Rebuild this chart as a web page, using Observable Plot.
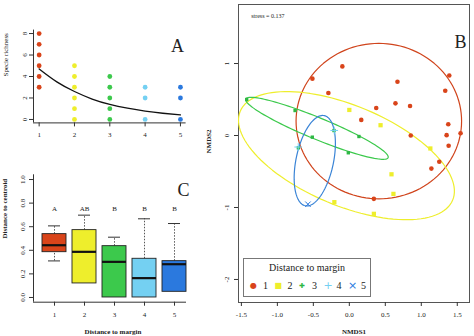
<!DOCTYPE html>
<html>
<head>
<meta charset="utf-8">
<script src="https://cdn.jsdelivr.net/npm/d3@7"></script>
<script src="https://cdn.jsdelivr.net/npm/@observablehq/plot@0.6"></script>
<style>
  body { margin: 0; background: #fff; }
  #wrap { position: relative; width: 474px; height: 336px; overflow: hidden; font-family: "Liberation Serif", "Times New Roman", serif; }
  .panel { position: absolute; }
  .panel svg { display: block; overflow: visible; }
  #legend { position: absolute; left: 243px; top: 258px; width: 126px; height: 37px; border: 1px solid #777; background: #fff; font-size: 10px; color: #222; }
  #legend .title { text-align: center; margin-top: 3px; line-height: 12px; }
  #legend .items { position: absolute; left: 0; top: 20px; width: 126px; height: 14px; }
  #legend .sym { position: absolute; top: 0; font-size: 10px; line-height: 14px; }
  #legend .lab { position: absolute; top: 0; line-height: 14px; }
</style>
</head>
<body>
<div id="wrap">
  <div class="panel" id="pa" style="left:0;top:0"></div>
  <div class="panel" id="pc" style="left:0;top:160px"></div>
  <div class="panel" id="pb" style="left:200px;top:0"></div>
  <div id="legend">
    <div class="title">Distance to margin</div>
    <div class="items" id="legendItems"></div>
  </div>
</div>
<script>
// ---------- shared ----------
const groups = [1, 2, 3, 4, 5];
const groupColors = ["#d9441a", "#eeee2c", "#3cc94c", "#74d0f2", "#2b79de"];
const distanceTicks = [1, 2, 3, 4, 5];

// ---------- Panel A: species richness vs distance ----------
const richnessDistance = [1,1,1,1,1,1, 2,2,2,2,2,2, 3,3,3,3,3, 4,4,4, 5,5,5];
const richnessValues   = [3,4,5,6,7,8, 0,1,2,3,4,5, 0,1,2,3,4, 0,2,3, 0,2,3];
const fitDistance = [1, 1.5, 2, 2.5, 3, 3.5, 4, 4.5, 5];
const fitRichness = [4.7, 3.5, 2.6, 1.9, 1.4, 1.05, 0.78, 0.58, 0.42];
const richnessTicks = [0, 2, 4, 6, 8];

// ---------- Panel C: distance to centroid boxplots ----------
const whiskerLow  = [0.31, 0.119, 0.0, 0.0, 0.048];
const boxQ1       = [0.384, 0.119, 0.0, 0.0, 0.048];
const boxMedian   = [0.443, 0.387, 0.302, 0.164, 0.282];
const boxQ3       = [0.537, 0.571, 0.435, 0.328, 0.308];
const whiskerHigh = [0.607, 0.698, 0.511, 0.667, 0.627];
const groupLetters = ["A", "AB", "B", "B", "B"];
const letterLevel = 0.75;
const centroidTicks = [0, 0.2, 0.4, 0.6, 0.8, 1.0];

// ---------- Panel B: NMDS ----------
const nmdsGroup = [1,1,1,1,1,1,1,1,1,1,1,1,1,1,1,1,1,1, 2,2,2,2,2,2,2, 3,3,3,3,3,3,3, 4,4, 5];
const nmds1 = [-0.513,-0.097,-0.291,0.669,0.374,0.641,0.844,0.166,0.854,1.389,1.333,1.375,1.352,1.546,1.38,1.25,1.14,0.341,
               0.0,0.434,1.126,0.586,0.613,-0.208,0.341,
               -1.426,-0.754,-0.213,-0.514,0.134,-0.014,-0.708,
               -0.21,-0.71,
               -0.575];
const nmds2 = [0.79,0.96,0.59,0.746,0.382,0.447,0.41,0.217,0.0,0.834,0.622,0.157,0.005,0.032,-0.143,-0.364,-0.46,-0.88,
               0.355,0.143,-0.18,-0.539,-0.811,-0.926,-1.088,
               0.5,0.347,0.069,-0.023,-0.014,-0.24,-0.171,
               0.07,-0.16,
               -0.955];
const nmdsTicksX = [-1.5, -1.0, -0.5, 0.0, 0.5, 1.0, 1.5];
const nmdsTicksY = [-2, -1, 0, 1];
// ellipses (centre, semi-axes, angle in degrees)
const ellipseGroup = [1, 2, 3, 4];
const ellipseColor = ["#d0441c", "#eeee2c", "#3cc94c", "#3a84d6"];
const ellipseCx = [0.41, -0.04, -0.45, -0.48];
const ellipseCy = [0.2, -0.28, 0.1, -0.35];
const ellipseA  = [1.15, 1.6, 1.07, 0.64];
const ellipseB  = [1.08, 0.695, 0.15, 0.26];
const ellipseAngle = [0, -22.7, -22.4, 78.1];
const stressText = "stress = 0.137";

const FONT = '"Liberation Serif", "Times New Roman", serif';
const AX = "#333";
const colorScale = {domain: groups, range: groupColors};

// ---------- build A ----------
const richness = richnessDistance.map((d, i) => ({dist: d, rich: richnessValues[i]}));
const fit = fitDistance.map((d, i) => ({dist: d, rich: fitRichness[i]}));
const xA = [0.84, 5.16], yA = [-0.32, 8.32];
const plotA = Plot.plot({
  width: 200, height: 160,
  marginLeft: 33, marginRight: 14.4, marginTop: 29.6, marginBottom: 37.6,
  x: {domain: xA, axis: null},
  y: {domain: yA, axis: null},
  color: colorScale,
  style: {fontFamily: FONT, background: "transparent", color: "#222"},
  marks: [
    Plot.ruleX([xA[0]], {stroke: AX}),
    Plot.ruleY([yA[0]], {stroke: AX}),
    Plot.axisX({ticks: distanceTicks, tickFormat: d => String(d), tickSize: 4, tickPadding: 5, fontSize: 7, label: null, stroke: AX, anchor: "bottom"}),
    Plot.axisY({ticks: richnessTicks, tickFormat: d => String(d), tickSize: 4, tickPadding: 3, tickRotate: -90, fontSize: 7, label: null, stroke: AX, anchor: "left"}),
    Plot.dot(richness, {x: "dist", y: "rich", r: 2.4, fill: "dist", stroke: null}),
    Plot.line(fit, {x: "dist", y: "rich", curve: "natural", stroke: "#111", strokeWidth: 1.3}),
    Plot.text(["Specie richness"], {frameAnchor: "left", dx: -28, rotate: -90, fontSize: 7}),
    Plot.text(["A"], {frameAnchor: "top-right", dx: -8.6, dy: 16.4, fontSize: 18, textAnchor: "middle", lineAnchor: "middle"})
  ]
});
document.getElementById("pa").append(plotA);

// ---------- build C ----------
const boxes = groups.map((g, i) => ({
  g, lo: whiskerLow[i], q1: boxQ1[i], med: boxMedian[i], q3: boxQ3[i], hi: whiskerHigh[i], letter: groupLetters[i]
}));
const lowerWhiskers = boxes.filter(b => b.lo < b.q1);
const xC = [0.3, 5.4], yC = [-0.04, 1.04];
const plotC = Plot.plot({
  width: 200, height: 176,
  marginLeft: 33, marginRight: 14, marginTop: 14.3, marginBottom: 34.3,
  x: {domain: xC, axis: null},
  y: {domain: yC, axis: null},
  color: colorScale,
  style: {fontFamily: FONT, background: "transparent", color: "#222"},
  marks: [
    Plot.ruleX([xC[0]], {stroke: AX}),
    Plot.ruleY([yC[0]], {stroke: AX}),
    Plot.axisX({ticks: distanceTicks, tickFormat: d => String(d), tickSize: 4, tickPadding: 6, fontSize: 7, label: null, stroke: AX, anchor: "bottom"}),
    Plot.axisY({ticks: centroidTicks, tickFormat: d => d.toFixed(1), tickSize: 4, tickPadding: 5, tickRotate: -90, fontSize: 7, label: null, stroke: AX, anchor: "left"}),
    Plot.ruleX(boxes, {x: "g", y1: "q3", y2: "hi", stroke: "#444", strokeDasharray: "1.5,1.5", strokeWidth: 0.9}),
    Plot.ruleX(lowerWhiskers, {x: "g", y1: "lo", y2: "q1", stroke: "#444", strokeDasharray: "1.5,1.5", strokeWidth: 0.9}),
    Plot.ruleY(boxes, {y: "hi", x1: d => d.g - 0.2, x2: d => d.g + 0.2, stroke: "#333", strokeWidth: 1}),
    Plot.ruleY(lowerWhiskers, {y: "lo", x1: d => d.g - 0.2, x2: d => d.g + 0.2, stroke: "#333", strokeWidth: 1}),
    Plot.rect(boxes, {x1: d => d.g - 0.4, x2: d => d.g + 0.4, y1: "q1", y2: "q3", fill: "g", stroke: "#222", strokeWidth: 0.9}),
    Plot.ruleY(boxes, {y: "med", x1: d => d.g - 0.4, x2: d => d.g + 0.4, stroke: "#111", strokeWidth: 2.2}),
    Plot.text(boxes, {x: "g", y: () => letterLevel, text: "letter", fontSize: 7}),
    Plot.text(["Distance to centroid"], {frameAnchor: "left", dx: -29, rotate: -90, fontSize: 7, fontWeight: "bold"}),
    Plot.text(["Distance to margin"], {frameAnchor: "bottom", dx: 3, dy: 31.3, fontSize: 7, fontWeight: "bold"}),
    Plot.text(["C"], {frameAnchor: "top-right", dx: -3, dy: 15.7, fontSize: 18, textAnchor: "middle", lineAnchor: "middle"})
  ]
});
document.getElementById("pc").append(plotC);

// ---------- build B ----------
const nmds = nmdsGroup.map((g, i) => ({g, x: nmds1[i], y: nmds2[i]}));
const ellipsePts = [];
ellipseGroup.forEach((g, k) => {
  const th = ellipseAngle[k] * Math.PI / 180;
  const n = 120;
  for (let j = 0; j <= n; j++) {
    const t = 2 * Math.PI * j / n;
    const u = ellipseA[k] * Math.cos(t), v = ellipseB[k] * Math.sin(t);
    ellipsePts.push({g, col: ellipseColor[k],
      x: ellipseCx[k] + u * Math.cos(th) - v * Math.sin(th),
      y: ellipseCy[k] + u * Math.sin(th) + v * Math.cos(th)});
  }
});
const xB = [-1.54, 1.67], yB = [-2.32, 1.82];
const plotB = Plot.plot({
  width: 274, height: 336,
  marginLeft: 38, marginRight: 5, marginTop: 4, marginBottom: 34,
  x: {domain: xB, axis: null},
  y: {domain: yB, axis: null},
  style: {fontFamily: FONT, background: "transparent", color: "#222"},
  marks: [
    Plot.frame({stroke: "#555", strokeWidth: 1}),
    Plot.axisX({ticks: nmdsTicksX, tickFormat: d => d.toFixed(1), tickSize: 4, tickPadding: 6, fontSize: 7, label: null, stroke: AX, anchor: "bottom"}),
    Plot.axisY({ticks: nmdsTicksY, tickFormat: d => String(d), tickSize: 4, tickPadding: 5.5, tickRotate: -90, fontSize: 7, label: null, stroke: AX, anchor: "left"}),
    Plot.line(ellipsePts, {x: "x", y: "y", z: "g", stroke: "col", strokeWidth: 1.2, clip: true}),
    Plot.dot(nmds.filter(d => d.g === 1), {x: "x", y: "y", r: 2.3, fill: groupColors[0], stroke: null}),
    Plot.dot(nmds.filter(d => d.g === 2), {x: "x", y: "y", r: 2.4, symbol: "square", fill: groupColors[1], stroke: null}),
    Plot.dot(nmds.filter(d => d.g === 3), {x: "x", y: "y", r: 1.9, symbol: "square", fill: "#2fb845", stroke: null}),
    Plot.dot(nmds.filter(d => d.g === 4), {x: "x", y: "y", r: 2.6, symbol: "plus", stroke: groupColors[3], strokeWidth: 1}),
    Plot.dot(nmds.filter(d => d.g === 5), {x: "x", y: "y", r: 2.6, symbol: "times", stroke: groupColors[4], strokeWidth: 1}),
    Plot.text([stressText], {frameAnchor: "top-left", dx: 12.7, dy: 9, textAnchor: "start", fontSize: 6}),
    Plot.text(["B"], {frameAnchor: "top-right", dx: -9, dy: 38, fontSize: 18, textAnchor: "middle", lineAnchor: "middle"}),
    Plot.text(["NMDS2"], {frameAnchor: "left", dx: -30, rotate: -90, fontSize: 7, fontWeight: "bold"}),
    Plot.text(["NMDS1"], {frameAnchor: "bottom", dy: 31, fontSize: 7, fontWeight: "bold"})
  ]
});
document.getElementById("pb").append(plotB);

// ---------- legend ----------
const legendSymbols = ["●", "■", "✚", "+", "×"];
const legendSymbolSize = [8, 8, 7, 11, 11];
const legendColors = ["#d9441a", "#eeee2c", "#2fb845", "#74d0f2", "#2b79de"];
const items = document.getElementById("legendItems");
groups.forEach((g, i) => {
  const s = document.createElement("span");
  s.className = "sym";
  s.textContent = legendSymbols[i];
  s.style.left = (6 + i * 24.5) + "px";
  s.style.color = legendColors[i];
  s.style.fontSize = legendSymbolSize[i] + "px";
  s.style.fontFamily = "DejaVu Sans, sans-serif";
  items.append(s);
  const l = document.createElement("span");
  l.className = "lab";
  l.textContent = String(g);
  l.style.left = (19 + i * 24.5) + "px";
  items.append(l);
});
</script>
</body>
</html>
